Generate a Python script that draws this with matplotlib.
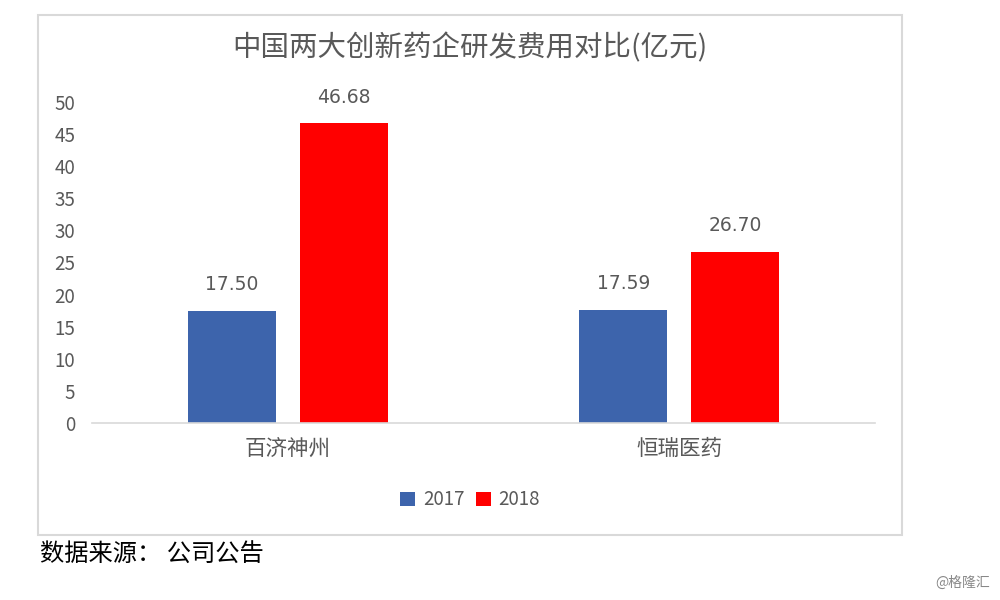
import matplotlib
matplotlib.use('Agg')
import matplotlib.pyplot as plt
import numpy as np
from matplotlib.patches import Rectangle

plt.rcParams['font.family'] = ['Noto Sans CJK SC', 'DejaVu Sans']

companies = ['百济神州', '恒瑞医药']
years = ['2017', '2018']
rd_2017 = [17.50, 17.59]
rd_2018 = [46.68, 26.70]
colors = ['#3d64ac', '#ff0000']
grey = '#595959'

fig = plt.figure(figsize=(10, 6), dpi=100)

# outer chart frame
fig.patches.append(Rectangle((0.038, 0.108), 0.864, 0.867, transform=fig.transFigure,
                             fill=False, edgecolor='#d9d9d9', linewidth=1.5))

ax = fig.add_axes([0.092, 0.295, 0.783, 0.535])
x = np.arange(len(companies))
w = 0.2245
off = 0.143
for vals, c, lab, d in [(rd_2017, colors[0], years[0], -off), (rd_2018, colors[1], years[1], off)]:
    bars = ax.bar(x + d, vals, width=w, color=c, label=lab)
    for b, v in zip(bars, vals):
        ax.annotate(f'{v:.2f}', (b.get_x() + b.get_width() / 2, v), xytext=(0, 12),
                    textcoords='offset points', ha='center', va='bottom',
                    fontsize=13.5, color=grey, family='DejaVu Sans')

ax.set_xlim(-0.5, 1.5)
ax.set_ylim(0, 50)
ax.set_yticks(range(0, 51, 5))
ax.set_xticks(x)
ax.set_xticklabels(companies, fontsize=15.5, color=grey)
ax.tick_params(axis='y', labelsize=13.5, labelcolor=grey, length=0, pad=12)
ax.tick_params(axis='x', length=0, pad=11)
for s in ['top', 'right', 'left']:
    ax.spines[s].set_visible(False)
ax.spines['bottom'].set_color('#d9d9d9')
ax.spines['bottom'].set_linewidth(1.2)

fig.text(0.47, 0.92, '中国两大创新药企研发费用对比(亿元)', ha='center', va='center',
         fontsize=20.5, color=grey)

fig.legend(loc='center', bbox_to_anchor=(0.47, 0.167), ncol=2, frameon=False,
           fontsize=13.5, labelcolor=grey, handlelength=0.8, handleheight=0.8,
           handletextpad=0.4, columnspacing=0.6)

fig.text(0.04, 0.075, '数据来源： 公司公告', ha='left', va='center', fontsize=17.5, color='black')
fig.text(0.99, 0.028, '@格隆汇', ha='right', va='center', fontsize=10, color='#888888')

fig.savefig('out.png', dpi=100)
